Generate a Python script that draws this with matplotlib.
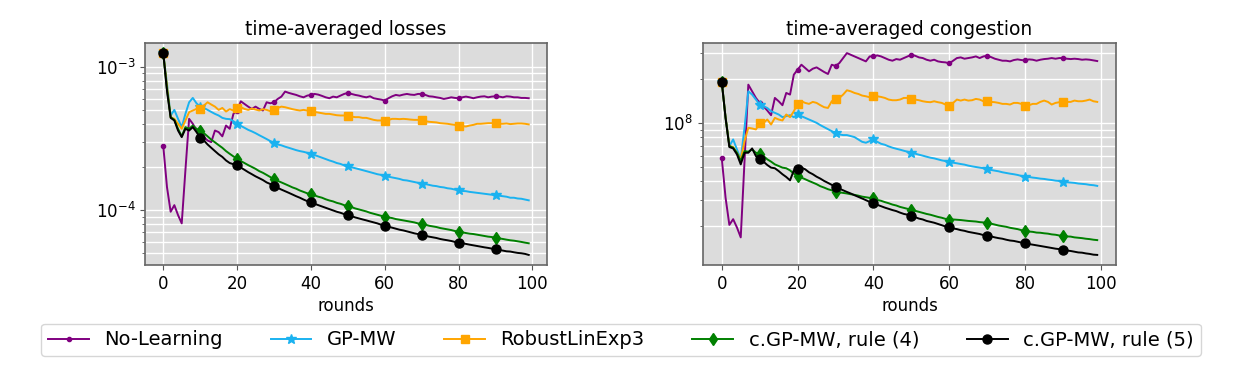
import numpy as np
import matplotlib
matplotlib.use("Agg")
import matplotlib.pyplot as plt

rounds = np.arange(100)

labels = ["No-Learning", "GP-MW", "RobustLinExp3", "c.GP-MW, rule (4)", "c.GP-MW, rule (5)"]
colors = ["purple", "#1ab2f0", "orange", "green", "black"]
markers = [".", "*", "s", "d", "o"]
msizes = [6, 7, 6, 6.5, 6.5]

titles = ["time-averaged losses", "time-averaged congestion"]

# ---------------- time-averaged losses ----------------
loss_nolearn = [
    2.80e-4, 1.45e-4, 9.74e-5, 1.083e-4, 9.23e-5, 8.08e-5, 1.90e-4, 4.33e-4, 4.00e-4, 3.59e-4,
    3.69e-4, 3.23e-4, 3.06e-4, 2.98e-4, 3.59e-4, 3.50e-4, 3.27e-4, 3.89e-4, 3.69e-4, 4.69e-4,
    4.95e-4, 5.74e-4, 5.50e-4, 5.27e-4, 5.08e-4, 5.27e-4, 5.08e-4, 4.95e-4, 5.65e-4, 5.56e-4,
    5.65e-4, 5.96e-4, 6.19e-4, 6.71e-4, 6.57e-4, 6.46e-4, 6.36e-4, 6.22e-4, 6.12e-4, 6.29e-4,
    6.36e-4, 6.46e-4, 6.39e-4, 6.26e-4, 6.12e-4, 6.03e-4, 6.19e-4, 6.12e-4, 6.29e-4, 6.46e-4,
    6.57e-4, 6.46e-4, 6.36e-4, 6.29e-4, 6.19e-4, 6.12e-4, 6.22e-4, 6.03e-4, 5.96e-4, 5.90e-4,
    5.81e-4, 6.03e-4, 6.22e-4, 6.36e-4, 6.29e-4, 6.39e-4, 6.46e-4, 6.39e-4, 6.36e-4, 6.46e-4,
    6.46e-4, 6.36e-4, 6.22e-4, 6.19e-4, 6.12e-4, 6.06e-4, 5.96e-4, 6.03e-4, 6.12e-4, 6.06e-4,
    6.03e-4, 6.12e-4, 6.19e-4, 6.12e-4, 6.03e-4, 6.12e-4, 6.19e-4, 6.22e-4, 6.12e-4, 6.19e-4,
    6.22e-4, 6.19e-4, 6.12e-4, 6.22e-4, 6.19e-4, 6.12e-4, 6.12e-4, 6.06e-4, 6.06e-4, 6.03e-4]

loss_gpmw = [
    1.245e-3, 7.58e-4, 4.57e-4, 5.00e-4, 4.33e-4, 3.79e-4, 4.69e-4, 5.65e-4, 6.06e-4, 5.56e-4,
    5.27e-4, 5.16e-4, 5.00e-4, 4.84e-4, 4.69e-4, 4.57e-4, 4.40e-4, 4.33e-4, 4.31e-4, 4.17e-4,
    4.00e-4, 3.87e-4, 3.75e-4, 3.63e-4, 3.54e-4, 3.44e-4, 3.33e-4, 3.23e-4, 3.13e-4, 3.03e-4,
    2.93e-4, 2.87e-4, 2.83e-4, 2.77e-4, 2.72e-4, 2.67e-4, 2.62e-4, 2.58e-4, 2.55e-4, 2.51e-4,
    2.47e-4, 2.42e-4, 2.37e-4, 2.32e-4, 2.27e-4, 2.22e-4, 2.18e-4, 2.13e-4, 2.10e-4, 2.05e-4,
    2.02e-4, 1.99e-4, 1.96e-4, 1.93e-4, 1.90e-4, 1.87e-4, 1.84e-4, 1.81e-4, 1.78e-4, 1.76e-4,
    1.73e-4, 1.71e-4, 1.69e-4, 1.67e-4, 1.65e-4, 1.62e-4, 1.61e-4, 1.59e-4, 1.57e-4, 1.55e-4,
    1.53e-4, 1.52e-4, 1.50e-4, 1.48e-4, 1.47e-4, 1.45e-4, 1.44e-4, 1.42e-4, 1.41e-4, 1.39e-4,
    1.38e-4, 1.36e-4, 1.355e-4, 1.34e-4, 1.33e-4, 1.32e-4, 1.31e-4, 1.30e-4, 1.29e-4, 1.28e-4,
    1.27e-4, 1.26e-4, 1.25e-4, 1.24e-4, 1.22e-4, 1.22e-4, 1.205e-4, 1.20e-4, 1.185e-4, 1.17e-4]

loss_robust = [
    1.245e-3, 7.38e-4, 4.45e-4, 4.33e-4, 4.00e-4, 3.69e-4, 4.22e-4, 4.82e-4, 4.95e-4, 5.08e-4,
    5.08e-4, 5.36e-4, 5.65e-4, 5.45e-4, 5.27e-4, 5.00e-4, 5.16e-4, 4.87e-4, 5.06e-4, 4.95e-4,
    5.16e-4, 5.22e-4, 5.08e-4, 5.00e-4, 5.11e-4, 5.03e-4, 4.95e-4, 5.06e-4, 5.00e-4, 4.90e-4,
    5.03e-4, 5.16e-4, 5.27e-4, 5.22e-4, 5.14e-4, 5.06e-4, 5.00e-4, 4.95e-4, 5.00e-4, 4.95e-4,
    4.90e-4, 4.84e-4, 4.79e-4, 4.74e-4, 4.69e-4, 4.69e-4, 4.64e-4, 4.59e-4, 4.57e-4, 4.57e-4,
    4.52e-4, 4.49e-4, 4.45e-4, 4.45e-4, 4.40e-4, 4.40e-4, 4.33e-4, 4.26e-4, 4.22e-4, 4.22e-4,
    4.17e-4, 4.26e-4, 4.33e-4, 4.33e-4, 4.31e-4, 4.33e-4, 4.31e-4, 4.28e-4, 4.26e-4, 4.26e-4,
    4.22e-4, 4.17e-4, 4.13e-4, 4.11e-4, 4.09e-4, 4.04e-4, 4.02e-4, 4.00e-4, 3.96e-4, 3.93e-4,
    3.89e-4, 3.85e-4, 3.83e-4, 3.89e-4, 3.93e-4, 4.00e-4, 4.00e-4, 4.02e-4, 4.04e-4, 4.04e-4,
    4.04e-4, 4.00e-4, 4.00e-4, 4.02e-4, 3.98e-4, 4.00e-4, 4.02e-4, 4.02e-4, 4.00e-4, 3.96e-4]

loss_rule4 = [
    1.245e-3, 7.00e-4, 4.45e-4, 4.26e-4, 3.69e-4, 3.27e-4, 3.79e-4, 3.69e-4, 3.89e-4, 3.69e-4,
    3.59e-4, 3.44e-4, 3.27e-4, 3.10e-4, 2.97e-4, 2.84e-4, 2.72e-4, 2.58e-4, 2.47e-4, 2.37e-4,
    2.28e-4, 2.20e-4, 2.13e-4, 2.06e-4, 2.00e-4, 1.94e-4, 1.87e-4, 1.82e-4, 1.76e-4, 1.70e-4,
    1.64e-4, 1.60e-4, 1.56e-4, 1.52e-4, 1.48e-4, 1.44e-4, 1.41e-4, 1.37e-4, 1.34e-4, 1.31e-4,
    1.29e-4, 1.265e-4, 1.24e-4, 1.22e-4, 1.19e-4, 1.167e-4, 1.15e-4, 1.124e-4, 1.107e-4, 1.083e-4,
    1.066e-4, 1.049e-4, 1.027e-4, 1.011e-4, 9.95e-5, 9.79e-5, 9.58e-5, 9.43e-5, 9.28e-5, 9.13e-5,
    8.99e-5, 8.89e-5, 8.80e-5, 8.66e-5, 8.57e-5, 8.48e-5, 8.39e-5, 8.30e-5, 8.21e-5, 8.08e-5,
    7.99e-5, 7.91e-5, 7.78e-5, 7.70e-5, 7.62e-5, 7.50e-5, 7.42e-5, 7.34e-5, 7.26e-5, 7.15e-5,
    7.07e-5, 7.00e-5, 6.92e-5, 6.85e-5, 6.81e-5, 6.74e-5, 6.67e-5, 6.60e-5, 6.53e-5, 6.49e-5,
    6.42e-5, 6.35e-5, 6.29e-5, 6.22e-5, 6.16e-5, 6.12e-5, 6.06e-5, 6.00e-5, 5.93e-5, 5.87e-5]

loss_rule5 = [
    1.245e-3, 6.81e-4, 4.40e-4, 4.22e-4, 3.59e-4, 3.23e-4, 3.69e-4, 3.59e-4, 3.79e-4, 3.50e-4,
    3.20e-4, 3.06e-4, 2.87e-4, 2.72e-4, 2.58e-4, 2.45e-4, 2.35e-4, 2.22e-4, 2.13e-4, 2.09e-4,
    2.05e-4, 1.98e-4, 1.91e-4, 1.84e-4, 1.78e-4, 1.72e-4, 1.67e-4, 1.62e-4, 1.56e-4, 1.52e-4,
    1.48e-4, 1.43e-4, 1.39e-4, 1.355e-4, 1.32e-4, 1.285e-4, 1.25e-4, 1.22e-4, 1.185e-4, 1.155e-4,
    1.13e-4, 1.107e-4, 1.083e-4, 1.06e-4, 1.038e-4, 1.016e-4, 9.95e-5, 9.74e-5, 9.58e-5, 9.38e-5,
    9.23e-5, 9.08e-5, 8.89e-5, 8.75e-5, 8.61e-5, 8.48e-5, 8.34e-5, 8.21e-5, 8.08e-5, 7.91e-5,
    7.78e-5, 7.66e-5, 7.54e-5, 7.42e-5, 7.30e-5, 7.22e-5, 7.11e-5, 7.00e-5, 6.89e-5, 6.81e-5,
    6.71e-5, 6.63e-5, 6.53e-5, 6.46e-5, 6.39e-5, 6.29e-5, 6.22e-5, 6.16e-5, 6.09e-5, 6.00e-5,
    5.93e-5, 5.87e-5, 5.81e-5, 5.74e-5, 5.68e-5, 5.62e-5, 5.56e-5, 5.50e-5, 5.45e-5, 5.39e-5,
    5.33e-5, 5.28e-5, 5.22e-5, 5.16e-5, 5.14e-5, 5.08e-5, 5.03e-5, 5.00e-5, 4.95e-5, 4.87e-5]

# ---------------- time-averaged congestion ----------------
cong_nolearn = [
    5.75e7, 3.10e7, 2.02e7, 2.21e7, 1.94e7, 1.66e7, 5.51e7, 1.832e8, 1.65e8, 1.487e8,
    1.375e8, 1.305e8, 1.22e8, 1.133e8, 1.487e8, 1.411e8, 1.326e8, 1.608e8, 1.567e8, 2.144e8,
    2.318e8, 2.506e8, 2.379e8, 2.258e8, 2.354e8, 2.404e8, 2.318e8, 2.235e8, 2.166e8, 2.506e8,
    2.455e8, 2.572e8, 2.783e8, 3.009e8, 2.931e8, 2.856e8, 2.783e8, 2.711e8, 2.641e8, 2.856e8,
    2.856e8, 2.901e8, 2.856e8, 2.783e8, 2.711e8, 2.669e8, 2.739e8, 2.711e8, 2.783e8, 2.856e8,
    2.931e8, 2.886e8, 2.812e8, 2.783e8, 2.711e8, 2.669e8, 2.711e8, 2.641e8, 2.614e8, 2.600e8,
    2.559e8, 2.669e8, 2.783e8, 2.812e8, 2.754e8, 2.783e8, 2.812e8, 2.856e8, 2.783e8, 2.856e8,
    2.886e8, 2.826e8, 2.754e8, 2.711e8, 2.669e8, 2.669e8, 2.641e8, 2.697e8, 2.725e8, 2.697e8,
    2.683e8, 2.725e8, 2.711e8, 2.669e8, 2.711e8, 2.739e8, 2.754e8, 2.783e8, 2.754e8, 2.783e8,
    2.783e8, 2.754e8, 2.739e8, 2.754e8, 2.739e8, 2.711e8, 2.725e8, 2.711e8, 2.683e8, 2.655e8]

cong_gpmw = [
    1.91e8, 1.099e8, 6.98e7, 7.74e7, 6.62e7, 5.66e7, 9.30e7, 1.65e8, 1.567e8, 1.449e8,
    1.34e8, 1.305e8, 1.27e8, 1.207e8, 1.176e8, 1.146e8, 1.099e8, 1.116e8, 1.133e8, 1.099e8,
    1.146e8, 1.116e8, 1.087e8, 1.059e8, 1.032e8, 1.005e8, 9.69e7, 9.39e7, 9.10e7, 8.82e7,
    8.51e7, 8.37e7, 8.29e7, 8.29e7, 8.16e7, 8.03e7, 7.74e7, 7.46e7, 7.35e7, 7.54e7,
    7.74e7, 7.46e7, 7.23e7, 7.12e7, 6.94e7, 6.80e7, 6.69e7, 6.59e7, 6.48e7, 6.38e7,
    6.28e7, 6.19e7, 6.09e7, 6.00e7, 5.90e7, 5.81e7, 5.75e7, 5.66e7, 5.57e7, 5.51e7,
    5.43e7, 5.37e7, 5.32e7, 5.26e7, 5.21e7, 5.13e7, 5.07e7, 5.02e7, 4.97e7, 4.92e7,
    4.84e7, 4.79e7, 4.74e7, 4.69e7, 4.62e7, 4.57e7, 4.52e7, 4.48e7, 4.43e7, 4.36e7,
    4.31e7, 4.29e7, 4.25e7, 4.22e7, 4.18e7, 4.16e7, 4.12e7, 4.09e7, 4.05e7, 4.03e7,
    3.99e7, 3.95e7, 3.93e7, 3.91e7, 3.87e7, 3.85e7, 3.83e7, 3.79e7, 3.77e7, 3.73e7]

cong_robust = [
    1.91e8, 1.099e8, 6.98e7, 6.87e7, 6.28e7, 5.66e7, 7.54e7, 9.30e7, 9.20e7, 9.06e7,
    9.95e7, 1.005e8, 1.059e8, 9.79e7, 1.087e8, 1.059e8, 1.043e8, 1.146e8, 1.099e8, 1.207e8,
    1.354e8, 1.411e8, 1.375e8, 1.354e8, 1.397e8, 1.375e8, 1.326e8, 1.285e8, 1.27e8, 1.411e8,
    1.464e8, 1.487e8, 1.567e8, 1.677e8, 1.65e8, 1.608e8, 1.583e8, 1.543e8, 1.526e8, 1.503e8,
    1.526e8, 1.526e8, 1.51e8, 1.487e8, 1.449e8, 1.434e8, 1.434e8, 1.449e8, 1.487e8, 1.487e8,
    1.472e8, 1.449e8, 1.434e8, 1.411e8, 1.397e8, 1.39e8, 1.411e8, 1.39e8, 1.375e8, 1.34e8,
    1.305e8, 1.375e8, 1.449e8, 1.426e8, 1.449e8, 1.426e8, 1.434e8, 1.464e8, 1.449e8, 1.411e8,
    1.411e8, 1.397e8, 1.39e8, 1.375e8, 1.354e8, 1.354e8, 1.34e8, 1.375e8, 1.375e8, 1.354e8,
    1.312e8, 1.326e8, 1.354e8, 1.354e8, 1.397e8, 1.426e8, 1.397e8, 1.34e8, 1.375e8, 1.39e8,
    1.404e8, 1.397e8, 1.397e8, 1.426e8, 1.411e8, 1.411e8, 1.426e8, 1.449e8, 1.411e8, 1.397e8]

cong_rule4 = [
    1.91e8, 1.087e8, 6.98e7, 6.80e7, 6.28e7, 5.51e7, 6.45e7, 6.38e7, 6.62e7, 6.28e7,
    6.19e7, 5.96e7, 5.66e7, 5.46e7, 5.23e7, 5.10e7, 4.97e7, 4.92e7, 4.76e7, 4.52e7,
    4.36e7, 4.25e7, 4.14e7, 4.03e7, 3.93e7, 3.83e7, 3.71e7, 3.63e7, 3.54e7, 3.48e7,
    3.41e7, 3.37e7, 3.34e7, 3.31e7, 3.27e7, 3.24e7, 3.20e7, 3.15e7, 3.12e7, 3.09e7,
    3.06e7, 2.99e7, 2.95e7, 2.89e7, 2.84e7, 2.78e7, 2.74e7, 2.68e7, 2.64e7, 2.60e7,
    2.56e7, 2.52e7, 2.48e7, 2.44e7, 2.40e7, 2.37e7, 2.33e7, 2.29e7, 2.26e7, 2.22e7,
    2.19e7, 2.20e7, 2.19e7, 2.18e7, 2.165e7, 2.15e7, 2.14e7, 2.13e7, 2.11e7, 2.10e7,
    2.08e7, 2.06e7, 2.03e7, 2.00e7, 1.98e7, 1.96e7, 1.93e7, 1.91e7, 1.89e7, 1.86e7,
    1.84e7, 1.82e7, 1.81e7, 1.79e7, 1.785e7, 1.77e7, 1.76e7, 1.74e7, 1.73e7, 1.71e7,
    1.70e7, 1.685e7, 1.68e7, 1.66e7, 1.65e7, 1.64e7, 1.625e7, 1.615e7, 1.60e7, 1.59e7]

cong_rule5 = [
    1.91e8, 1.087e8, 6.87e7, 6.72e7, 6.12e7, 5.23e7, 6.28e7, 6.28e7, 6.72e7, 5.96e7,
    5.66e7, 5.46e7, 5.18e7, 4.97e7, 4.92e7, 4.71e7, 4.48e7, 4.29e7, 4.07e7, 4.76e7,
    4.89e7, 4.97e7, 4.84e7, 4.62e7, 4.48e7, 4.31e7, 4.18e7, 4.03e7, 3.91e7, 3.79e7,
    3.67e7, 3.57e7, 3.48e7, 3.39e7, 3.31e7, 3.22e7, 3.14e7, 3.06e7, 2.98e7, 2.90e7,
    2.83e7, 2.77e7, 2.71e7, 2.65e7, 2.60e7, 2.55e7, 2.51e7, 2.45e7, 2.40e7, 2.37e7,
    2.32e7, 2.28e7, 2.23e7, 2.20e7, 2.15e7, 2.12e7, 2.09e7, 2.05e7, 2.01e7, 1.97e7,
    1.94e7, 1.91e7, 1.89e7, 1.86e7, 1.84e7, 1.81e7, 1.79e7, 1.77e7, 1.75e7, 1.72e7,
    1.70e7, 1.685e7, 1.66e7, 1.64e7, 1.625e7, 1.60e7, 1.58e7, 1.57e7, 1.55e7, 1.53e7,
    1.51e7, 1.495e7, 1.48e7, 1.465e7, 1.45e7, 1.435e7, 1.42e7, 1.405e7, 1.39e7, 1.38e7,
    1.37e7, 1.35e7, 1.34e7, 1.325e7, 1.31e7, 1.305e7, 1.29e7, 1.28e7, 1.265e7, 1.26e7]

panels = [
    [loss_nolearn, loss_gpmw, loss_robust, loss_rule4, loss_rule5],
    [cong_nolearn, cong_gpmw, cong_robust, cong_rule4, cong_rule5],
]

plt.rcParams['font.family'] = ['DejaVu Sans']

fig = plt.figure(figsize=(12.42, 3.67), dpi=100)
ax_rects = [
    [145 / 1242, 1 - 265 / 367, (547 - 145) / 1242, (265 - 43) / 367],
    [703 / 1242, 1 - 265 / 367, (1116 - 703) / 1242, (265 - 43) / 367],
]

handles = []
for p, (rect, series, title) in enumerate(zip(ax_rects, panels, titles)):
    ax = fig.add_axes(rect)
    ax.set_facecolor('#dcdcdc')
    ax.set_axisbelow(True)
    for s, lab, c, m, ms in zip(series, labels, colors, markers, msizes):
        ln, = ax.plot(rounds, s, color=c, marker=m, markevery=10, markersize=ms,
                      linewidth=1.4, label=lab)
        if p == 0:
            handles.append(ln)
    ax.set_yscale('log')
    ax.grid(True, which='major', axis='x', color='white', linewidth=1.0)
    ax.grid(True, which='both', axis='y', color='white', linewidth=1.0)
    ax.set_xticks([0, 20, 40, 60, 80, 100])
    ax.tick_params(axis='both', which='major', labelsize=12, color='#555555')
    ax.tick_params(axis='both', which='minor', color='#555555')
    for sp in ax.spines.values():
        sp.set_color('#666666')
        sp.set_linewidth(1.2)
    ax.set_title(title, fontsize=13.5, pad=6)
    ax.set_xlabel('rounds', fontsize=12, labelpad=3)

fig.legend(handles=handles, labels=labels, loc='center', bbox_to_anchor=(0.5, 0.074),
           ncol=5, fontsize=14, numpoints=1, columnspacing=2.45, handlelength=2.1,
           handletextpad=0.8, frameon=True, edgecolor='#cccccc', borderpad=0.35)

fig.savefig('out.png', dpi=100)
